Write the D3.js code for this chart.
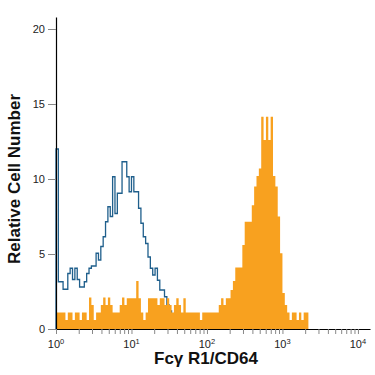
<!DOCTYPE html>
<html><head><meta charset="utf-8">
<script src="https://cdn.jsdelivr.net/npm/d3@7"></script>
<style>body{margin:0;background:#fff}</style></head>
<body><svg id="c" width="375" height="375"></svg>
<script>
// histogram channels: 32 bins per decade, starting at 10^0
const binsPerDecade = 32;
const isotypeCounts = [12,3.15,3.15,2.65,2.65,3.7,4.05,3.3,4.05,3.3,2.8,2.8,3.15,3.7,4.05,4.2,4.2,5.05,4.6,5.5,
  6.15,7.15,8.15,7.5,10.15,7.7,9.05,9.05,11.15,11.15,10.15,9.15,10.15,9.15,9.15,8.05,7.05,6.15,5.7,4.8,
  4.05,3.6,4.05,3.25,2.6,2.6,2.15,1.6,1.2,0.8,0.5];
const cd64Counts = [1.1,1.1,1.1,1.1,0.6,1.1,1.1,0.6,1.1,1.1,0.6,1.1,1.1,0.6,2.1,1.6,0.6,1.1,1.1,1.6,
  2.1,1.6,2.1,1.6,1.1,1.1,1.1,1.6,2.1,1.6,2.05,2.05,2.05,2.05,3.2,2.05,1.1,0.6,1.1,2.05,
  2.05,2.05,2.05,1.6,2.05,2.05,1.6,2.05,1.6,1.1,1.6,2.05,1.6,1.1,2.05,1.1,1.1,1.1,1.1,1.1,
  1.1,0.6,1.1,1.1,1.1,1.1,1.1,1.1,1.1,1.6,2.05,1.6,2.05,2.05,2.6,3.2,4.1,4.1,4.1,5.6,
  7.15,7.15,7.15,8.25,9.5,10.2,10.7,14.15,12.6,14.15,12.6,14.15,10.2,9.5,7.5,5.05,2.4,1.6,1.1,0.6,
  1.1,1.1,0.6,1.1,0.6,1.1,1.1];
const yTicks = [0,5,10,15,20];
const xMajorTicks = [1,10,100,1000,10000];
const xExponents = ["0","1","2","3","4"];
const xMinorMultipliers = [2,3,4,5,6,7,8,9];
const xTitle = "Fcγ R1/CD64";
const yTitle = "Relative Cell Number";

const svg = d3.select("#c");
const x = d3.scaleLog().domain([1, Math.pow(10, 4.16)]).range([56, 370]);
const y = d3.scaleLinear().domain([0, 20.8]).range([329, 17]);

function stepPoints(vals) {
  const pts = [[1, 0]];
  vals.forEach((v, i) => pts.push([Math.pow(10, i / binsPerDecade), v]));
  pts.push([Math.pow(10, vals.length / binsPerDecade), 0]);
  return pts;
}

// isotype (blue outline)
const line = d3.line().x(d => x(d[0])).y(d => y(d[1])).curve(d3.curveStepAfter);
svg.append("path").attr("d", line(stepPoints(isotypeCounts)))
  .attr("fill", "none").attr("stroke", "#1f5f8c").attr("stroke-width", 1.3);

// CD64 (orange filled)
const area = d3.area().x(d => x(d[0])).y0(y(0)).y1(d => y(d[1])).curve(d3.curveStepAfter);
svg.append("path").attr("d", area(stepPoints(cd64Counts)))
  .attr("fill", "#f8a11f").attr("stroke", "none");

// y axis
const yAxis = svg.append("g").attr("transform", "translate(56,0)")
  .call(d3.axisLeft(y).tickValues(yTicks).tickSize(8).tickSizeOuter(0).tickPadding(3));
yAxis.select(".domain").attr("stroke", "#000").attr("stroke-width", 1.2);
yAxis.selectAll(".tick line").attr("stroke", "#888");
yAxis.selectAll(".tick text").attr("font-family", "Liberation Sans, Arial, sans-serif")
  .attr("font-size", 11).attr("fill", "#222");

// x axis
const minor = [];
for (let d = 0; d < 4; d++) xMinorMultipliers.forEach(m => minor.push(m * Math.pow(10, d)));
const xAxis = svg.append("g").attr("transform", "translate(0,329)")
  .call(d3.axisBottom(x).tickValues(xMajorTicks.concat(minor)).tickSize(5).tickSizeOuter(0).tickFormat(""));
xAxis.select(".domain").attr("stroke", "#000").attr("stroke-width", 1.2);
xAxis.selectAll(".tick line").attr("stroke", "#888");

const lab = svg.append("g");
xMajorTicks.forEach((t, i) => {
  const tx = lab.append("text").attr("x", x(t)).attr("y", 348)
    .attr("text-anchor", "middle").attr("font-family", "Liberation Sans, Arial, sans-serif")
    .attr("font-size", 11).attr("fill", "#222");
  tx.append("tspan").text("10");
  tx.append("tspan").attr("dy", -4).attr("font-size", 7.5).text(xExponents[i]);
});

svg.append("text").attr("x", 206).attr("y", 364).attr("text-anchor", "middle")
  .attr("font-family", "Liberation Sans, Arial, sans-serif")
  .attr("font-weight", "bold").attr("font-size", 17).attr("fill", "#111").text(xTitle);

svg.append("text").attr("transform", "translate(20,179) rotate(-90)").attr("text-anchor", "middle")
  .attr("font-family", "Liberation Sans, Arial, sans-serif")
  .attr("font-weight", "bold").attr("font-size", 17).attr("fill", "#111").text(yTitle);
</script>
</body></html>
